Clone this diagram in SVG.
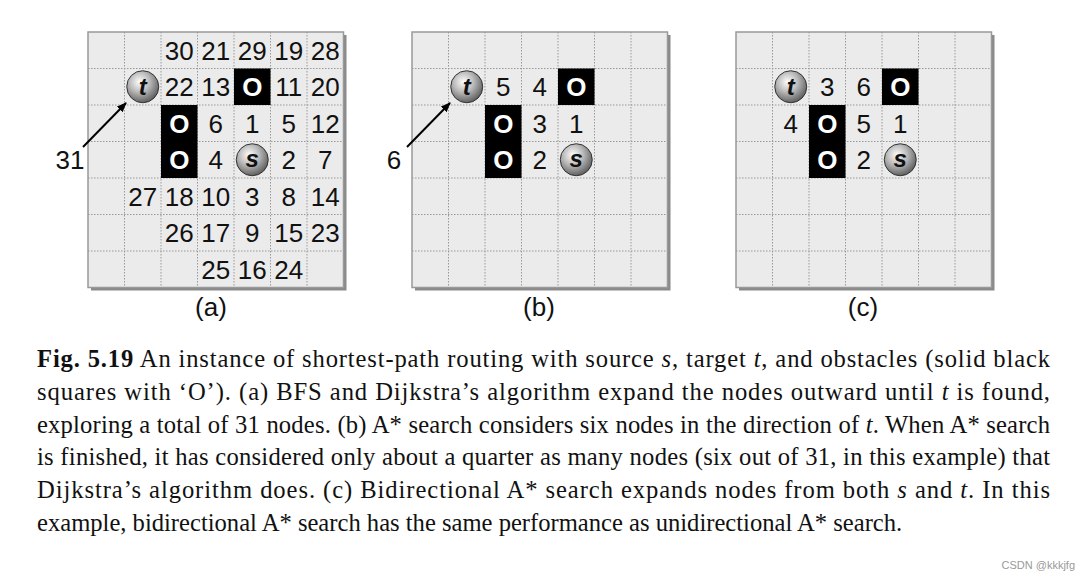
<svg xmlns="http://www.w3.org/2000/svg" xmlns:xlink="http://www.w3.org/1999/xlink" width="1088" height="582" viewBox="0 0 1088 582">
<style>
.n{font-family:"Liberation Sans",Arial,sans-serif;font-size:26px;fill:#111;text-anchor:middle}
.o{font-family:"Liberation Sans",Arial,sans-serif;font-size:26px;font-weight:bold;fill:#fff;text-anchor:middle}
.c{font-family:"Liberation Serif","Times New Roman",serif;font-size:24.6px;fill:#111}
.g{stroke:#999;stroke-width:1;stroke-dasharray:1.5 1.5}
.k{font-family:"Liberation Sans",Arial,sans-serif;font-size:24px;font-weight:bold;font-style:italic;fill:#111;text-anchor:middle}
</style>
<defs>
<radialGradient id="ball" cx="0.4" cy="0.35" r="0.7">
<stop offset="0" stop-color="#fff"/><stop offset="0.45" stop-color="#bbb"/><stop offset="1" stop-color="#555"/>
</radialGradient>
<marker id="ah" markerWidth="10" markerHeight="8" refX="9" refY="4" orient="auto" markerUnits="userSpaceOnUse">
<path d="M0,0 L10,4 L0,8 z" fill="#000"/>
</marker>
<g id="grid">
<rect x="3" y="3" width="255.5" height="255.5" fill="#8a8a8a"/>
<rect x="0" y="0" width="255.5" height="255.5" fill="#ebebeb" stroke="#999" stroke-width="1.5"/>
<path class="g" d="M36.5,0V255.5M73,0V255.5M109.5,0V255.5M146,0V255.5M182.5,0V255.5M219,0V255.5M0,36.5H255.5M0,73H255.5M0,109.5H255.5M0,146H255.5M0,182.5H255.5M0,219H255.5"/>
</g>
</defs>
<rect width="1088" height="582" fill="#fff"/>

<g id="panel-a">
<use xlink:href="#grid" x="88" y="32"/>
<rect x="234" y="68.5" width="36.5" height="36.5" fill="#000"/>
<rect x="161" y="105" width="36.5" height="73" fill="#000"/>
<text class="o" x="252.25" y="96">O</text>
<text class="o" x="179.25" y="132.5">O</text>
<text class="o" x="179.25" y="169">O</text>
<circle cx="142.75" cy="86.75" r="16" fill="url(#ball)" stroke="#333"/>
<text class="k" x="142.75" y="95.25">t</text>
<circle cx="252.25" cy="159.75" r="16" fill="url(#ball)" stroke="#333"/>
<text class="k" x="252.25" y="167.25">s</text>
<g class="n">
<text x="179.25" y="59.5">30</text><text x="215.75" y="59.5">21</text><text x="252.25" y="59.5">29</text><text x="288.75" y="59.5">19</text><text x="325.25" y="59.5">28</text>
<text x="179.25" y="96">22</text><text x="215.75" y="96">13</text><text x="288.75" y="96">11</text><text x="325.25" y="96">20</text>
<text x="215.75" y="132.5">6</text><text x="252.25" y="132.5">1</text><text x="288.75" y="132.5">5</text><text x="325.25" y="132.5">12</text>
<text x="215.75" y="169">4</text><text x="288.75" y="169">2</text><text x="325.25" y="169">7</text>
<text x="142.75" y="205.5">27</text><text x="179.25" y="205.5">18</text><text x="215.75" y="205.5">10</text><text x="252.25" y="205.5">3</text><text x="288.75" y="205.5">8</text><text x="325.25" y="205.5">14</text>
<text x="179.25" y="242">26</text><text x="215.75" y="242">17</text><text x="252.25" y="242">9</text><text x="288.75" y="242">15</text><text x="325.25" y="242">23</text>
<text x="215.75" y="278.5">25</text><text x="252.25" y="278.5">16</text><text x="288.75" y="278.5">24</text>
<text x="70" y="169">31</text>
<text x="211" y="316">(a)</text>
</g>
</g>

<g id="panel-b">
<use xlink:href="#grid" x="412" y="32"/>
<rect x="558" y="68.5" width="36.5" height="36.5" fill="#000"/>
<rect x="485" y="105" width="36.5" height="73" fill="#000"/>
<text class="o" x="576.25" y="96">O</text>
<text class="o" x="503.25" y="132.5">O</text>
<text class="o" x="503.25" y="169">O</text>
<circle cx="466.75" cy="86.75" r="16" fill="url(#ball)" stroke="#333"/>
<text class="k" x="466.75" y="95.25">t</text>
<circle cx="576.25" cy="159.75" r="16" fill="url(#ball)" stroke="#333"/>
<text class="k" x="576.25" y="167.25">s</text>
<g class="n">
<text x="503.25" y="96">5</text><text x="539.75" y="96">4</text>
<text x="539.75" y="132.5">3</text><text x="576.25" y="132.5">1</text>
<text x="539.75" y="169">2</text>
<text x="394" y="169">6</text>
<text x="539" y="316">(b)</text>
</g>
</g>

<g id="panel-c">
<use xlink:href="#grid" x="736" y="32"/>
<rect x="882" y="68.5" width="36.5" height="36.5" fill="#000"/>
<rect x="809" y="105" width="36.5" height="73" fill="#000"/>
<text class="o" x="900.25" y="96">O</text>
<text class="o" x="827.25" y="132.5">O</text>
<text class="o" x="827.25" y="169">O</text>
<circle cx="790.75" cy="86.75" r="16" fill="url(#ball)" stroke="#333"/>
<text class="k" x="790.75" y="95.25">t</text>
<circle cx="900.25" cy="159.75" r="16" fill="url(#ball)" stroke="#333"/>
<text class="k" x="900.25" y="167.25">s</text>
<g class="n">
<text x="827.25" y="96">3</text><text x="863.75" y="96">6</text>
<text x="790.75" y="132.5">4</text><text x="863.75" y="132.5">5</text><text x="900.25" y="132.5">1</text>
<text x="863.75" y="169">2</text>
<text x="863" y="316">(c)</text>
</g>
</g>

<g id="connectors" stroke="#000" stroke-width="2" fill="none">
<line x1="83" y1="147" x2="126" y2="103" marker-end="url(#ah)"/>
<line x1="407" y1="147" x2="450" y2="103" marker-end="url(#ah)"/>
</g>

<g id="caption" class="c">
<text x="37" y="367" textLength="1013" lengthAdjust="spacing"><tspan font-weight="bold">Fig. 5.19</tspan> An instance of shortest-path routing with source <tspan font-style="italic">s</tspan>, target <tspan font-style="italic">t</tspan>, and obstacles (solid black</text>
<text x="37" y="400" textLength="1013" lengthAdjust="spacing">squares with ‘O’). (a) BFS and Dijkstra’s algorithm expand the nodes outward until <tspan font-style="italic">t</tspan> is found,</text>
<text x="37" y="433" textLength="1013" lengthAdjust="spacing">exploring a total of 31 nodes. (b) A* search considers six nodes in the direction of <tspan font-style="italic">t</tspan>. When A* search</text>
<text x="37" y="465" textLength="1013" lengthAdjust="spacing">is finished, it has considered only about a quarter as many nodes (six out of 31, in this example) that</text>
<text x="37" y="498" textLength="1013" lengthAdjust="spacing">Dijkstra’s algorithm does. (c) Bidirectional A* search expands nodes from both <tspan font-style="italic">s</tspan> and <tspan font-style="italic">t</tspan>. In this</text>
<text x="37" y="531">example, bidirectional A* search has the same performance as unidirectional A* search.</text>
</g>
<text x="1075" y="569" font-family="'Liberation Sans',Arial,sans-serif" font-size="11" fill="#999" text-anchor="end">CSDN @kkkjfg</text>
</svg>
